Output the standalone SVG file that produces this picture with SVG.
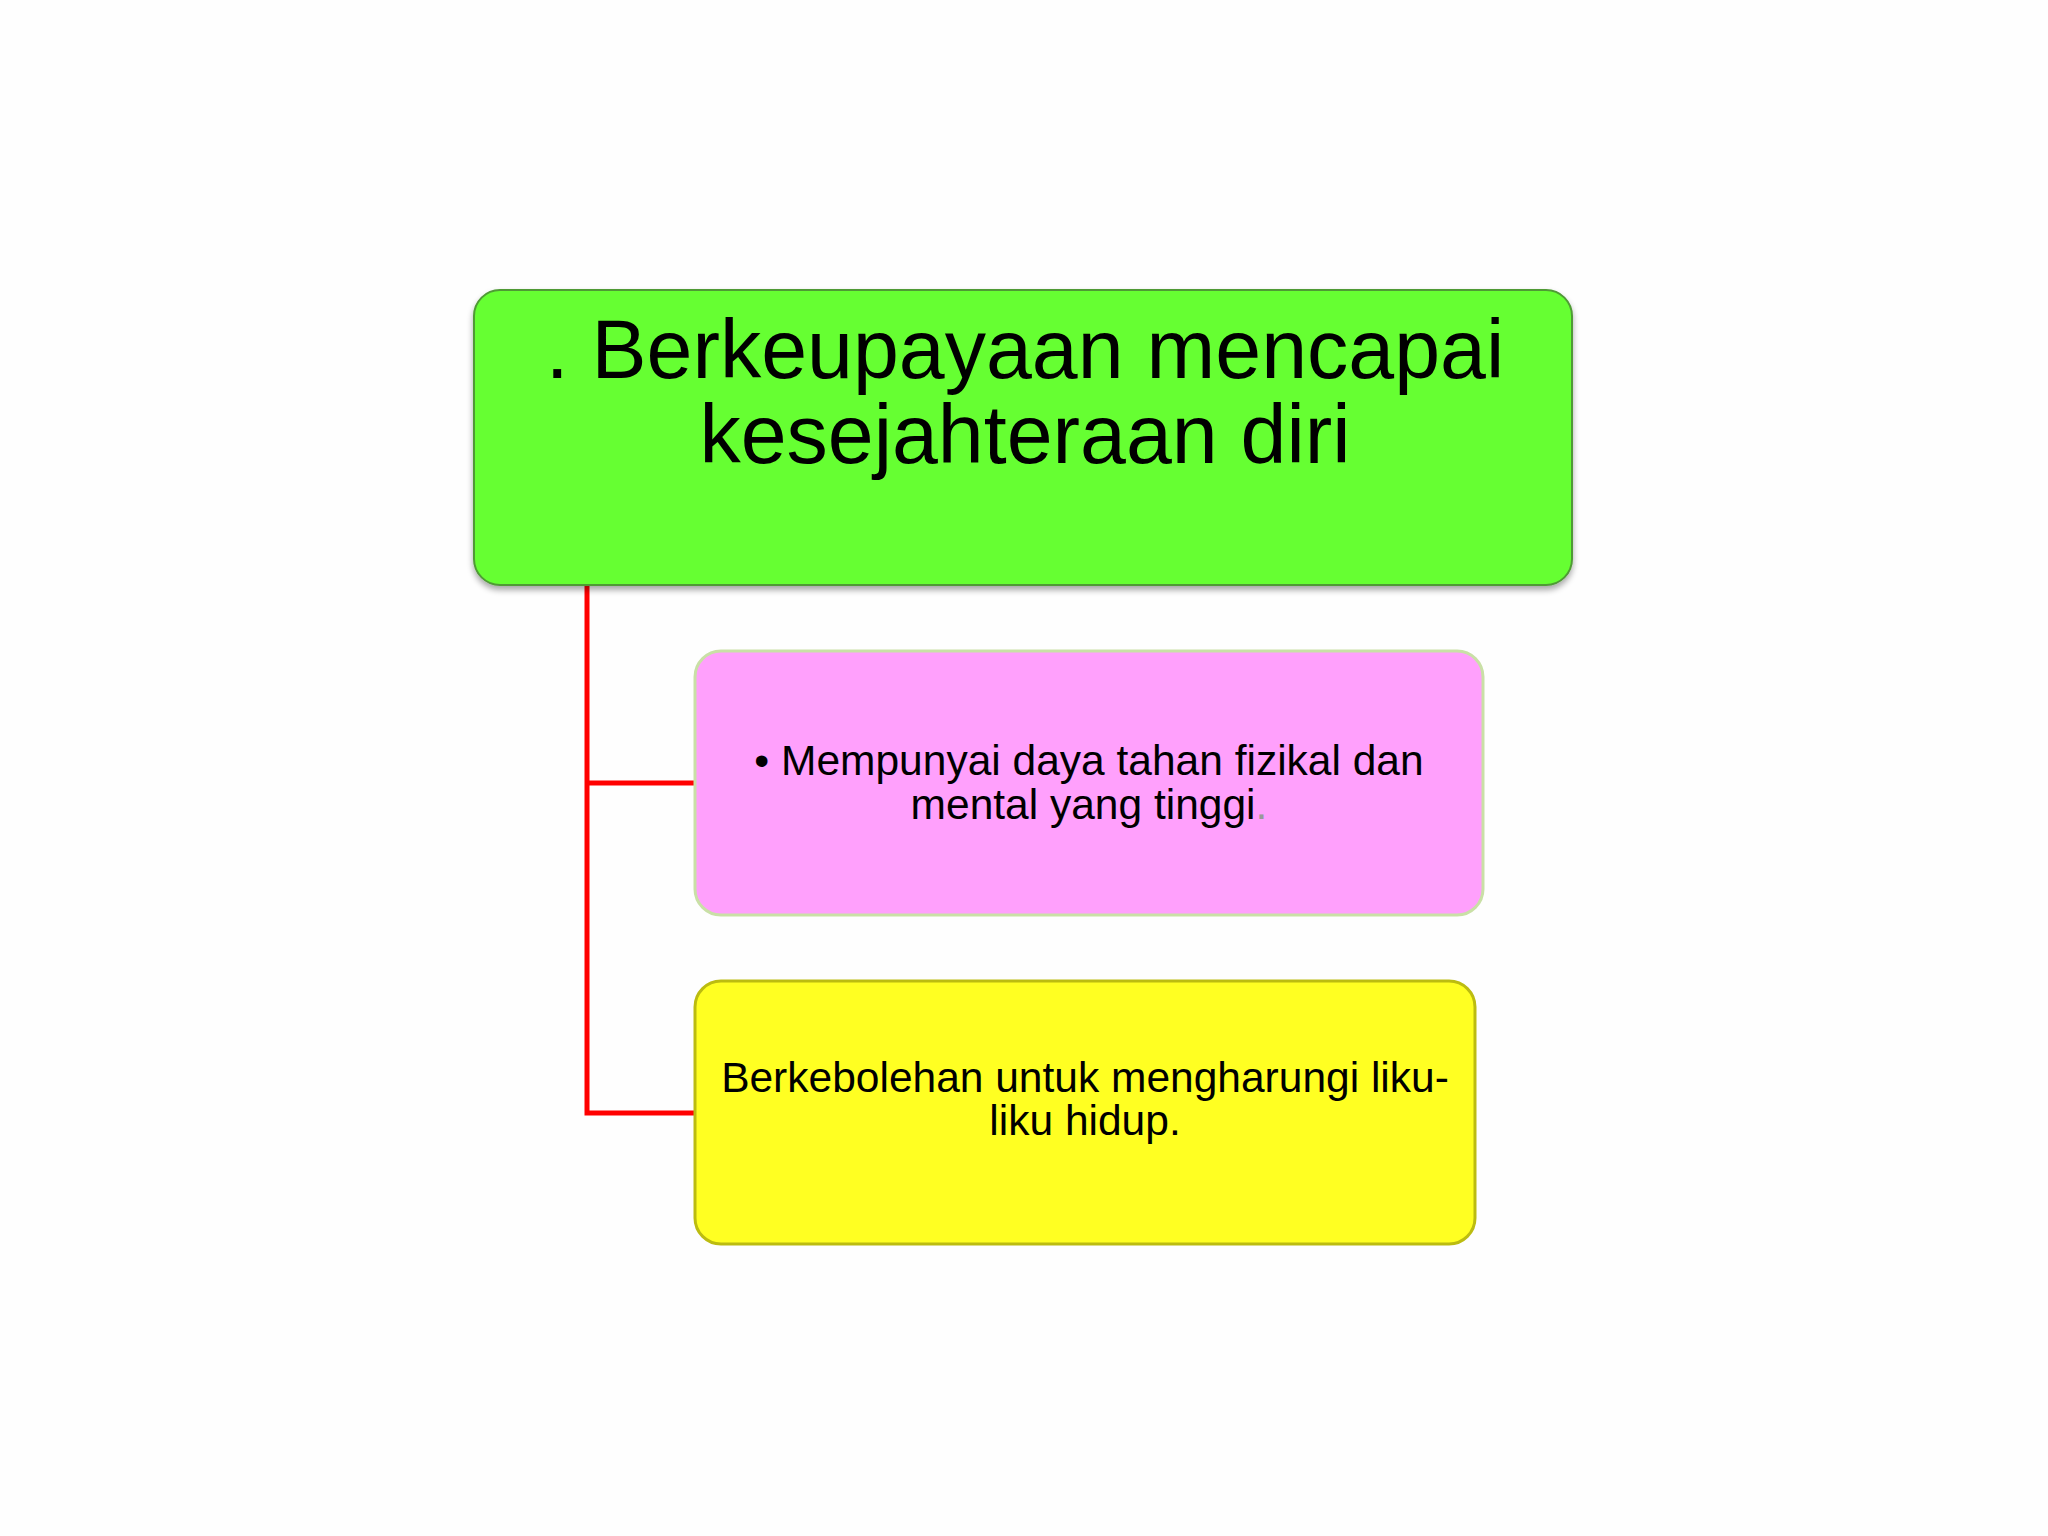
<svg xmlns="http://www.w3.org/2000/svg" width="2048" height="1536" viewBox="0 0 2048 1536">
  <defs>
    <filter id="sh" x="-10%" y="-10%" width="120%" height="130%">
      <feGaussianBlur in="SourceAlpha" stdDeviation="3"/>
      <feOffset dx="0" dy="4"/>
      <feComponentTransfer><feFuncA type="linear" slope="0.35"/></feComponentTransfer>
      <feMerge><feMergeNode/><feMergeNode in="SourceGraphic"/></feMerge>
    </filter>
  </defs>
  <style>
    text { font-family: "Liberation Sans", Arial, sans-serif; fill: #000; text-anchor: middle; }
    .title { font-size: 82.5px; }
    .body { font-size: 42.5px; }
    .conn { fill: none; stroke: #ff0000; stroke-width: 5; stroke-linejoin: miter; }
  </style>
  <rect width="2048" height="1536" fill="#fefefe"/>
  <g id="connectors">
    <path class="conn" d="M587 585 V1113 H695"/>
    <path class="conn" d="M587 783 H695"/>
  </g>
  <g id="node-root">
    <rect x="474" y="290" width="1098" height="295" rx="26" fill="#66ff33" stroke="#4f9a35" stroke-width="2" filter="url(#sh)"/>
    <text class="title" x="1025" y="378">. Berkeupayaan mencapai</text>
    <text class="title" x="1025" y="463">kesejahteraan diri</text>
  </g>
  <g id="node-pink">
    <rect x="695" y="651" width="788" height="264" rx="26" fill="#ffa0fc" stroke="#c9e0a6" stroke-width="3"/>
    <text class="body" x="1089" y="775">• Mempunyai daya tahan fizikal dan</text>
    <text class="body" x="1089" y="819">mental yang tinggi<tspan fill="#999999">.</tspan></text>
  </g>
  <g id="node-yellow">
    <rect x="695" y="981" width="780" height="263" rx="26" fill="#ffff22" stroke="#bcbc10" stroke-width="3"/>
    <text class="body" x="1085" y="1092">Berkebolehan untuk mengharungi liku-</text>
    <text class="body" x="1085" y="1135">liku hidup.</text>
  </g>
</svg>
